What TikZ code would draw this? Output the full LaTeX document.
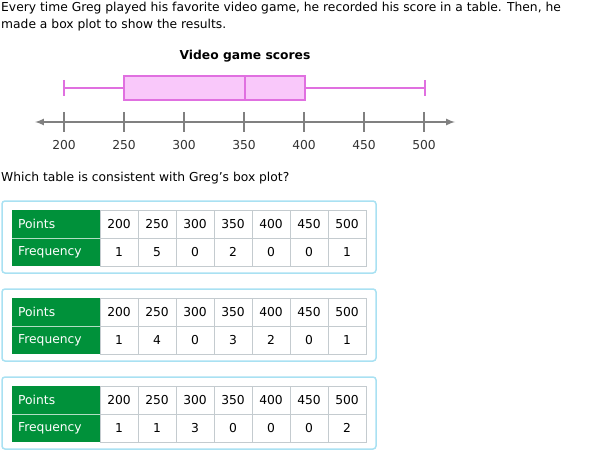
\documentclass[tikz,border=0pt]{standalone}
\usepackage{fontspec}
\setmainfont{DejaVu Sans}
\definecolor{boxpink}{HTML}{F9C8FA}
\definecolor{boxline}{HTML}{E070E0}
\definecolor{axisgray}{HTML}{808080}
\definecolor{hdgreen}{HTML}{00913A}
\definecolor{cellgray}{HTML}{C4CBCF}
\definecolor{framblue}{HTML}{A9E1F2}
\tikzset{
    txt/.style={anchor=west, inner sep=0pt, font=\fontsize{12.3}{14}\selectfont},
    lbl/.style={inner sep=0pt, font=\fontsize{12.3}{14}\selectfont},
    hd/.style={anchor=west, inner sep=0pt, text=white, font=\fontsize{12.3}{14}\selectfont},
    frame/.style={draw=framblue, line width=1.5pt, rounded corners=3pt},
    cell/.style={draw=cellgray, line width=1pt},
}
\begin{document}
\begin{tikzpicture}[x=1pt,y=-1pt]
    \useasboundingbox (0,0) rectangle (600,452);
    %Text
    \node[txt] (l1) at (1,8) {Every time Greg played his favorite video game, he recorded his score in a table. Then, he};
    \node[txt] (l2) at (1,25) {made a box plot to show the results.};
    \node[lbl, font=\fontsize{12.3}{14}\selectfont\bfseries] (title) at (245,56) {Video game scores};

    %Box plot
    \draw[boxline, line width=1.5pt] (64,80) -- (64,96) (425,80) -- (425,96)
        (64,88) -- (124,88) (305,88) -- (425,88);
    \draw[boxline, fill=boxpink, line width=1.5pt] (124,76) rectangle (305,100);
    \draw[boxline, line width=1.5pt] (245,76) -- (245,100);

    %Axis
    \draw[axisgray, line width=2pt, -latex] (250,122) -- (455,122);
    \draw[axisgray, line width=2pt, -latex] (250,122) -- (35,122);
    \foreach \v [count=\i from 0] in {200,250,...,500}
        \draw[axisgray, line width=1.5pt] (64+60*\i,112) -- (64+60*\i,132)
            node[lbl, text=black!80, below=8pt] {\v};

    \node[txt] (q) at (1,178) {Which table is consistent with Greg's box plot?};

    %Tables
    \foreach \t/\f in {0/{1,5,0,2,0,0,1}, 1/{1,4,0,3,2,0,1}, 2/{1,1,3,0,0,0,2}} {
        \begin{scope}[yshift=-88*\t]
            \draw[frame] (2,201) rectangle (376,273);
            \fill[hdgreen] (12,210) rectangle (100,266);
            \draw[white!70!hdgreen, line width=1pt] (12,238) -- (100,238);
            \node[hd] at (18,224) {Points};
            \node[hd] at (18,252) {Frequency};
            \foreach \p [count=\i from 0] in {200,250,...,500} {
                \draw[cell] (100+38*\i,210) rectangle (138+38*\i,238);
                \node[lbl] at (119+38*\i,224) {\p};
            }
            \foreach \n [count=\i from 0] in \f {
                \draw[cell] (100+38*\i,238) rectangle (138+38*\i,266);
                \node[lbl] at (119+38*\i,252) {\n};
            }
        \end{scope}
    }
\end{tikzpicture}
\end{document}
